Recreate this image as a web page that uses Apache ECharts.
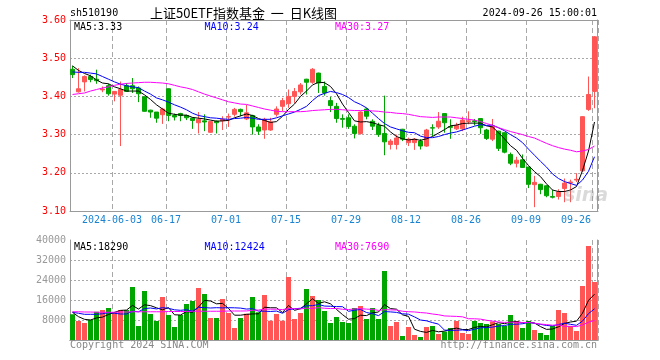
<!DOCTYPE html>
<html><head><meta charset="utf-8">
<script src="https://cdn.jsdelivr.net/npm/echarts@6/dist/echarts.min.js"></script>
<style>html,body{margin:0;padding:0;background:#fff}#c{width:660px;height:360px}</style>
</head><body><div id="c"></div>
<script>
// ---- data ----
const dates = [
 '2024-05-23','2024-05-24','2024-05-27','2024-05-28','2024-05-29','2024-05-30','2024-05-31',
 '2024-06-03','2024-06-04','2024-06-05','2024-06-06','2024-06-07','2024-06-11','2024-06-12','2024-06-13','2024-06-14',
 '2024-06-17','2024-06-18','2024-06-19','2024-06-20','2024-06-21','2024-06-24','2024-06-25','2024-06-26','2024-06-27','2024-06-28',
 '2024-07-01','2024-07-02','2024-07-03','2024-07-04','2024-07-05','2024-07-08','2024-07-09','2024-07-10','2024-07-11','2024-07-12',
 '2024-07-15','2024-07-16','2024-07-17','2024-07-18','2024-07-19','2024-07-22','2024-07-23','2024-07-24','2024-07-25','2024-07-26',
 '2024-07-29','2024-07-30','2024-07-31','2024-08-01','2024-08-02','2024-08-05','2024-08-06','2024-08-07','2024-08-08','2024-08-09',
 '2024-08-12','2024-08-13','2024-08-14','2024-08-15','2024-08-16','2024-08-19','2024-08-20','2024-08-21','2024-08-22','2024-08-23',
 '2024-08-26','2024-08-27','2024-08-28','2024-08-29','2024-08-30','2024-09-02','2024-09-03','2024-09-04','2024-09-05','2024-09-06',
 '2024-09-09','2024-09-10','2024-09-11','2024-09-12','2024-09-13','2024-09-18','2024-09-19','2024-09-20',
 '2024-09-23','2024-09-24','2024-09-25','2024-09-26'];

const open = [3.471,3.412,3.438,3.452,3.445,3.417,3.428,3.406,3.403,3.428,
 3.428,3.422,3.399,3.364,3.359,3.352,3.420,3.350,3.355,3.350,
 3.343,3.331,3.336,3.306,3.335,3.336,3.346,3.353,3.366,3.341,
 3.350,3.320,3.312,3.312,3.353,3.374,3.381,3.400,3.412,3.445,
 3.437,3.461,3.426,3.389,3.374,3.342,3.344,3.322,3.303,3.367,
 3.335,3.324,3.303,3.274,3.274,3.314,3.279,3.279,3.283,3.270,
 3.318,3.320,3.355,3.321,3.315,3.315,3.334,3.336,3.342,3.312,
 3.288,3.309,3.305,3.248,3.225,3.234,3.215,3.169,3.170,3.166,
 3.138,3.138,3.159,3.174,3.181,3.205,3.366,3.413];
const close = [3.457,3.420,3.452,3.444,3.441,3.419,3.407,3.413,3.418,3.413,
 3.420,3.407,3.361,3.359,3.343,3.367,3.350,3.346,3.350,3.344,
 3.337,3.340,3.333,3.334,3.331,3.340,3.347,3.366,3.360,3.357,
 3.320,3.309,3.340,3.333,3.367,3.389,3.400,3.413,3.430,3.437,
 3.471,3.435,3.409,3.376,3.342,3.340,3.321,3.303,3.359,3.348,
 3.322,3.300,3.281,3.283,3.291,3.288,3.288,3.288,3.270,3.312,
 3.317,3.335,3.331,3.319,3.324,3.338,3.336,3.334,3.318,3.290,
 3.321,3.264,3.254,3.225,3.233,3.214,3.170,3.175,3.156,3.140,
 3.136,3.150,3.173,3.176,3.183,3.347,3.405,3.556];
const low = [3.448,3.410,3.413,3.437,3.433,3.411,3.402,3.387,3.270,3.412,
 3.409,3.385,3.360,3.344,3.331,3.328,3.335,3.337,3.335,3.338,
 3.315,3.303,3.309,3.305,3.303,3.312,3.320,3.347,3.348,3.338,
 3.300,3.299,3.289,3.310,3.347,3.361,3.370,3.383,3.405,3.405,
 3.433,3.409,3.402,3.359,3.331,3.318,3.315,3.290,3.300,3.340,
 3.312,3.294,3.246,3.261,3.261,3.283,3.270,3.260,3.261,3.268,
 3.296,3.315,3.305,3.289,3.312,3.309,3.327,3.324,3.302,3.286,
 3.283,3.257,3.251,3.220,3.214,3.213,3.160,3.110,3.144,3.136,
 3.133,3.130,3.123,3.123,3.176,3.203,3.362,3.369];
const high = [3.480,3.474,3.455,3.457,3.470,3.426,3.433,3.414,3.439,3.435,
 3.448,3.426,3.400,3.365,3.359,3.370,3.421,3.355,3.357,3.352,
 3.345,3.359,3.353,3.336,3.337,3.348,3.355,3.370,3.368,3.378,
 3.352,3.327,3.344,3.344,3.374,3.396,3.418,3.422,3.435,3.446,
 3.474,3.462,3.439,3.399,3.383,3.353,3.353,3.327,3.361,3.370,
 3.340,3.331,3.402,3.288,3.300,3.315,3.292,3.291,3.288,3.315,
 3.327,3.359,3.356,3.340,3.331,3.347,3.361,3.341,3.343,3.315,
 3.341,3.310,3.306,3.253,3.242,3.248,3.216,3.192,3.171,3.167,
 3.155,3.157,3.185,3.182,3.199,3.348,3.452,3.558];
const volume = [10300,7600,6800,8100,11300,12000,12800,11100,12000,12000,
 21200,5600,19600,10400,7600,17200,10000,5200,10000,14400,
 15600,20800,18400,8800,8800,16400,10800,4800,8800,10500,
 17200,11100,18000,7700,10400,7700,25200,8400,10800,20400,
 17600,16000,11600,6800,9200,7200,6800,12800,13600,8400,
 12800,8400,27600,5600,7200,1600,5200,2000,1200,5200,
 5600,2400,3400,4800,7600,2800,2400,7600,6800,6400,
 7400,6400,5600,10000,7600,4800,7600,4000,2800,2000,
 5600,12000,10800,5600,3600,21600,37600,23200];

const ma5 = [3.480,3.468,3.460,3.454,3.443,3.435,3.433,3.425,3.420,3.414,
 3.414,3.414,3.404,3.392,3.378,3.367,3.356,3.353,3.351,3.351,
 3.345,3.343,3.341,3.338,3.335,3.336,3.337,3.344,3.349,3.354,
 3.350,3.342,3.337,3.332,3.334,3.348,3.366,3.380,3.400,3.414,
 3.430,3.437,3.436,3.426,3.407,3.380,3.358,3.336,3.333,3.334,
 3.331,3.326,3.322,3.307,3.295,3.289,3.286,3.288,3.285,3.289,
 3.295,3.304,3.313,3.323,3.325,3.329,3.330,3.330,3.330,3.323,
 3.320,3.305,3.289,3.271,3.259,3.238,3.219,3.203,3.190,3.171,
 3.155,3.151,3.151,3.155,3.164,3.206,3.257,3.333];
const ma10 = [3.464,3.463,3.463,3.461,3.459,3.452,3.445,3.438,3.432,3.428,
 3.425,3.423,3.414,3.406,3.396,3.391,3.385,3.378,3.372,3.365,
 3.356,3.350,3.347,3.344,3.343,3.341,3.340,3.342,3.343,3.345,
 3.343,3.340,3.340,3.340,3.344,3.349,3.354,3.359,3.366,3.374,
 3.389,3.402,3.408,3.413,3.410,3.405,3.397,3.386,3.379,3.370,
 3.356,3.342,3.329,3.320,3.315,3.310,3.306,3.305,3.296,3.292,
 3.292,3.295,3.300,3.304,3.307,3.312,3.317,3.322,3.326,3.324,
 3.325,3.318,3.310,3.300,3.291,3.279,3.262,3.246,3.230,3.215,
 3.197,3.185,3.177,3.172,3.167,3.181,3.204,3.242];
const ma30 = [3.405,3.407,3.409,3.414,3.418,3.422,3.425,3.429,3.432,3.434,
 3.435,3.436,3.437,3.437,3.436,3.435,3.433,3.429,3.425,3.422,
 3.418,3.412,3.406,3.401,3.396,3.391,3.386,3.383,3.380,3.379,
 3.375,3.371,3.367,3.364,3.361,3.360,3.360,3.360,3.360,3.361,
 3.363,3.364,3.365,3.366,3.366,3.365,3.364,3.363,3.363,3.363,
 3.362,3.361,3.359,3.358,3.356,3.355,3.353,3.350,3.347,3.346,
 3.345,3.346,3.346,3.346,3.344,3.342,3.340,3.338,3.334,3.329,
 3.324,3.318,3.313,3.308,3.304,3.300,3.295,3.291,3.284,3.277,
 3.271,3.266,3.262,3.259,3.255,3.257,3.261,3.270];
const vma5 = [11070,9330,8270,8000,8820,9160,10200,11060,11840,11980,
 13820,12380,14080,13760,12880,12080,12960,10080,10000,11360,
 11040,13200,15840,15600,14480,14640,12640,9920,9920,10260,
 10420,10480,13120,12900,12880,10980,13800,11880,12500,14500,
 16480,14640,15280,14480,12240,10160,8320,8560,9920,9760,
 10880,11200,14160,12560,12320,10080,9440,4320,3440,3040,
 3840,3280,3560,4280,4760,4200,4200,5040,5440,5200,
 6120,6920,6520,7160,7400,6880,7120,6800,5360,4240,
 4400,5280,6640,7200,7520,10720,15840,18320];
const vma10 = [11070,10700,10270,10270,10270,10500,10930,10700,10400,10400,
 11490,11290,12570,12800,12430,12950,12670,12080,11880,12120,
 11560,13080,12960,12800,12920,12840,12920,12880,12760,12370,
 12530,11560,11520,11410,11570,10700,12140,12500,12700,13690,
 13730,14220,13580,13490,13370,13320,11480,11920,12200,11000,
 10520,9760,11360,11240,11040,10480,10320,9240,8000,7680,
 6960,6360,3940,3860,3900,4020,3740,4300,4860,4980,
 5160,5560,5780,6300,6300,6500,7020,6660,6260,5820,
 5640,6200,6720,6280,5880,7560,10560,12480];
const vma30 = [11300,11300,11200,11200,11100,11100,11100,11100,11200,11200,
 11300,11300,11300,11300,11300,11300,11400,11400,11400,11400,
 11500,11500,11500,11500,11500,11500,11600,11600,11600,11630,
 11860,11980,12350,12340,12310,12160,12580,12490,12450,12730,
 12610,12950,12690,12570,12620,12290,12180,12430,12550,12350,
 12260,11850,12150,12050,11990,11500,11310,11220,10970,10790,
 10400,10110,9630,9530,9440,9270,8510,8490,8350,7890,
 7550,7230,7030,7130,7080,7000,7030,6730,6370,6160,
 5920,6040,5480,5480,5360,6030,7110,7810];

const tickDates  = ['2024-06-03','2024-06-17','2024-07-01','2024-07-15','2024-07-29','2024-08-12','2024-08-26','2024-09-09','2024-09-26'];
const tickLabels = ['2024-06-03','06-17','07-01','07-15','07-29','08-12','08-26','09-09','09-26'];
const priceLegend = ['MA5:3.33','MA10:3.24','MA30:3.27'];
const volLegend = ['MA5:18290','MA10:12424','MA30:7690'];
const titleCode = 'sh510190';
const titleText = '上证50ETF指数基金  一  日K线图';
const titleTime = '2024-09-26 15:00:01';

// ---- drawing ----
const UP = '#ff5555', DOWN = '#00a500';
const MONO = 'DejaVu Sans Mono';
const MA_COLORS = ['#000000', '#0000ff', '#ff00ff'];
const FRAME = '#9a9a9a', GRIDC = '#a8a8a8', BLUE = '#1a84d2';

const tickSet = new Set(tickDates);
const labelOf = {}; tickDates.forEach((d, k) => labelOf[d] = tickLabels[k]);
const lastIdx = dates.length - 1;

const candleData = dates.map((d, i) => [open[i], close[i], low[i], high[i]]);
const volData = volume.map((v, i) => ({ value: v, itemStyle: { color: close[i] >= open[i] ? UP : DOWN } }));

const hiddenCat = g => ({ type: 'category', gridIndex: g, data: dates, boundaryGap: true, show: false });
const hiddenVal = (g, min, max) => ({ type: 'value', gridIndex: g, min, max, show: false });
const frameLine = { show: true, lineStyle: { color: FRAME, width: 1 } };

function frameX(g, withLabels) {
  return [{
    type: 'category', gridIndex: g, data: dates, boundaryGap: true, position: 'bottom',
    axisLine: frameLine, axisTick: { show: false },
    splitLine: { show: true, interval: (i, v) => tickSet.has(dates[i]), lineStyle: { color: GRIDC, type: [5, 3], width: 1 } },
    axisLabel: withLabels ? {
      interval: (i, v) => tickSet.has(dates[i]), margin: 4,
      formatter: (v, i) => (i === lastIdx ? '{e|' : '{n|') + labelOf[v] + '}',
      rich: {
        n: { color: BLUE, fontFamily: MONO, fontSize: 10, padding: [0, 6, 0, 0] },
        e: { color: BLUE, fontFamily: MONO, fontSize: 10, padding: [0, 38, 0, 0] }
      }
    } : { show: false }
  }, {
    type: 'category', gridIndex: g, data: dates, boundaryGap: true, position: 'top',
    axisLine: frameLine, axisTick: { show: false }, axisLabel: { show: false }, splitLine: { show: false }
  }];
}
function frameY(g, min, max, interval, labelColor, fmt) {
  return [{
    type: 'value', gridIndex: g, min, max, interval, position: 'left',
    axisLine: frameLine, axisTick: { show: false },
    axisLabel: { color: labelColor, fontFamily: MONO, fontSize: 10, margin: 4, formatter: fmt, showMinLabel: g !== 3 },
    splitLine: { show: true, showMinLine: false, showMaxLine: false, lineStyle: { color: GRIDC, type: [2, 2], width: 1 } }
  }, {
    type: 'value', gridIndex: g, min, max, interval, position: 'right', offset: -1,
    axisLine: frameLine, axisTick: { show: false }, axisLabel: { show: false }, splitLine: { show: false }
  }];
}

function maLine(data, color, xi, yi) {
  return { type: 'line', data, xAxisIndex: xi, yAxisIndex: yi, symbol: 'none', showSymbol: false,
    lineStyle: { color, width: 1 }, z: 5, silent: true };
}

function txt(text, x, y, fill, font, align) {
  return { type: 'text', x, y, silent: true, z: 10,
    style: { text, fill, font, textAlign: align || 'left', textVerticalAlign: 'middle' } };
}

const chart = echarts.init(document.getElementById('c'), null, { renderer: 'canvas' });
chart.setOption({
  animation: false,
  backgroundColor: '#ffffff',
  grid: [
    { left: 69.5, top: 20, width: 528, height: 191 },
    { left: 69.5, top: 240, width: 528, height: 100 },
    { left: 70, top: 20, width: 528, height: 191 },
    { left: 70, top: 240, width: 528, height: 100 }
  ],
  xAxis: [hiddenCat(0), hiddenCat(1), ...frameX(2, true), ...frameX(3, false)],
  yAxis: [
    hiddenVal(0, 3.1, 3.6), hiddenVal(1, 0, 40000),
    ...frameY(2, 3.1, 3.6, 0.1, '#ff0000', v => v.toFixed(2)),
    ...frameY(3, 0, 40000, 8000, '#999999', v => String(v))
  ],
  series: [
    { type: 'candlestick', xAxisIndex: 0, yAxisIndex: 0, data: candleData, barWidth: 5, z: 3,
      itemStyle: { color: UP, color0: DOWN, borderColor: UP, borderColor0: DOWN, borderWidth: 1 } },
    maLine(ma5, MA_COLORS[0], 0, 0), maLine(ma10, MA_COLORS[1], 0, 0), maLine(ma30, MA_COLORS[2], 0, 0),
    { type: 'bar', xAxisIndex: 1, yAxisIndex: 1, data: volData, barWidth: 5, z: 3 },
    maLine(vma5, MA_COLORS[0], 1, 1), maLine(vma10, MA_COLORS[1], 1, 1), maLine(vma30, MA_COLORS[2], 1, 1)
  ],
  graphic: [
    txt(titleCode, 70, 13, '#000', '10px "' + MONO + '"'),
    txt(titleText, 150, 13, '#000', '13px "Noto Sans CJK SC"'),
    txt(titleTime, 597, 13, '#000', '10px "' + MONO + '"', 'right'),
    txt(priceLegend[0], 74, 27, MA_COLORS[0], '10px "' + MONO + '"'),
    txt(priceLegend[1], 204.5, 27, MA_COLORS[1], '10px "' + MONO + '"'),
    txt(priceLegend[2], 335, 27, MA_COLORS[2], '10px "' + MONO + '"'),
    txt(volLegend[0], 74, 247, MA_COLORS[0], '10px "' + MONO + '"'),
    txt(volLegend[1], 204.5, 247, MA_COLORS[1], '10px "' + MONO + '"'),
    txt(volLegend[2], 335, 247, MA_COLORS[2], '10px "' + MONO + '"'),
    txt('Copyright 2024 SINA.COM', 70, 345.5, '#888', '10px "' + MONO + '"'),
    txt('http://finance.sina.com.cn', 597, 345.5, '#888', '10px "' + MONO + '"', 'right'),
    txt('sina', 564, 196, 'rgba(150,150,150,0.35)', 'italic bold 19px "DejaVu Sans"')
  ]
});
</script>
</body></html>
